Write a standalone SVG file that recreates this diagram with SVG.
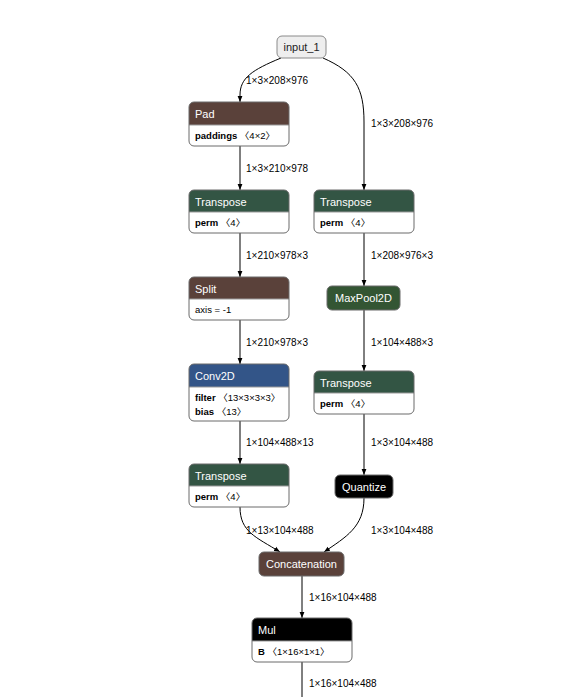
<svg xmlns="http://www.w3.org/2000/svg" width="581" height="697" viewBox="0 0 581 697">
<style>
text{font-family:"Liberation Sans","Noto Sans CJK SC",sans-serif}
.t{font-size:11px;fill:#fff}
.a{font-size:9.5px;fill:#000}
.b{font-weight:bold}
.el{font-size:10px;fill:#000}
.ol{fill:none;stroke:#6b6b6b;stroke-width:1}
.bd{fill:#fff}
.sep{stroke:#9a9a9a;stroke-width:1}
.e{fill:none;stroke:#000;stroke-width:1}
.tensor{fill:#5a413a}
.transform{fill:#335544}
.pool{fill:#335533}
.layer{fill:#335588}
.def{fill:#000}
</style>
<defs>
<marker id="ah" viewBox="0 0 10 10" refX="10" refY="5" markerWidth="6" markerHeight="6" markerUnits="userSpaceOnUse" orient="auto">
<path d="M0,1 L10,5 L0,9 Z" fill="#000"/>
</marker>
</defs>
<rect width="581" height="697" fill="#fff"/>
<g id="connectors">
<path class="e" d="M281 58 C252 70 240 78 240 95 L240 102" marker-end="url(#ah)"/>
<path class="e" d="M323 58 C355 72 364 88 364 122 L364 190" marker-end="url(#ah)"/>
<path class="e" d="M240 146 L240 190" marker-end="url(#ah)"/>
<path class="e" d="M240 233 L240 277" marker-end="url(#ah)"/>
<path class="e" d="M240 320 L240 364" marker-end="url(#ah)"/>
<path class="e" d="M240 421 L240 464" marker-end="url(#ah)"/>
<path class="e" d="M364 233 L364 286" marker-end="url(#ah)"/>
<path class="e" d="M364 310 L364 371" marker-end="url(#ah)"/>
<path class="e" d="M364 414 L364 475" marker-end="url(#ah)"/>
<path class="e" d="M240 507 C240 532 256 537 280 552" marker-end="url(#ah)"/>
<path class="e" d="M364 498 C364 527 346 537 324 552" marker-end="url(#ah)"/>
<path class="e" d="M302 576 L302 618" marker-end="url(#ah)"/>
<path class="e" d="M302 662 L302 697"/>
<text class="el" x="246" y="84">1×3×208×976</text>
<text class="el" x="371" y="127">1×3×208×976</text>
<text class="el" x="246" y="171.5">1×3×210×978</text>
<text class="el" x="246" y="258.5">1×210×978×3</text>
<text class="el" x="371" y="258.5">1×208×976×3</text>
<text class="el" x="246" y="345.5">1×210×978×3</text>
<text class="el" x="371" y="345.5">1×104×488×3</text>
<text class="el" x="246" y="445.5">1×104×488×13</text>
<text class="el" x="371" y="445.5">1×3×104×488</text>
<text class="el" x="246" y="533.5">1×13×104×488</text>
<text class="el" x="371" y="533.5">1×3×104×488</text>
<text class="el" x="309" y="600.5">1×16×104×488</text>
<text class="el" x="309" y="686.5">1×16×104×488</text>
</g>
<g id="input_1">
<rect x="277" y="36" width="49" height="22" rx="5" fill="#eee" stroke="#8a8a8a"/>
<text x="301.5" y="51" text-anchor="middle" font-size="11" fill="#222">input_1</text>
</g>
<g id="pad">
<rect class="bd" x="189" y="102" width="100" height="44" rx="5"/>
<path class="tensor" d="M189 125 V107 A5 5 0 0 1 194 102 H284 A5 5 0 0 1 289 107 V125 Z"/>
<line class="sep" x1="189" y1="125" x2="289" y2="125"/>
<rect class="ol" x="189" y="102" width="100" height="44" rx="5"/>
<text class="t" x="195" y="118">Pad</text>
<text class="a" x="195" y="139"><tspan class="b">paddings</tspan> 〈4×2〉</text>
</g>
<g id="transpose_1">
<rect class="bd" x="189" y="190" width="100" height="43" rx="5"/>
<path class="transform" d="M189 212 V195 A5 5 0 0 1 194 190 H284 A5 5 0 0 1 289 195 V212 Z"/>
<line class="sep" x1="189" y1="212" x2="289" y2="212"/>
<rect class="ol" x="189" y="190" width="100" height="43" rx="5"/>
<text class="t" x="195" y="205.5">Transpose</text>
<text class="a" x="195" y="226"><tspan class="b">perm</tspan> 〈4〉</text>
</g>
<g id="split">
<rect class="bd" x="189" y="277" width="100" height="43" rx="5"/>
<path class="tensor" d="M189 299 V282 A5 5 0 0 1 194 277 H284 A5 5 0 0 1 289 282 V299 Z"/>
<line class="sep" x1="189" y1="299" x2="289" y2="299"/>
<rect class="ol" x="189" y="277" width="100" height="43" rx="5"/>
<text class="t" x="195" y="292.5">Split</text>
<text class="a" x="195" y="313" font-size="8.5">axis = -1</text>
</g>
<g id="conv2d">
<rect class="bd" x="189" y="364" width="100" height="57" rx="5"/>
<path class="layer" d="M189 387 V369 A5 5 0 0 1 194 364 H284 A5 5 0 0 1 289 369 V387 Z"/>
<line class="sep" x1="189" y1="387" x2="289" y2="387"/>
<rect class="ol" x="189" y="364" width="100" height="57" rx="5"/>
<text class="t" x="195" y="380">Conv2D</text>
<text class="a" x="195" y="401"><tspan class="b">filter</tspan> 〈13×3×3×3〉</text>
<text class="a" x="195" y="415"><tspan class="b">bias</tspan> 〈13〉</text>
</g>
<g id="transpose_2">
<rect class="bd" x="189" y="464" width="100" height="43" rx="5"/>
<path class="transform" d="M189 486 V469 A5 5 0 0 1 194 464 H284 A5 5 0 0 1 289 469 V486 Z"/>
<line class="sep" x1="189" y1="486" x2="289" y2="486"/>
<rect class="ol" x="189" y="464" width="100" height="43" rx="5"/>
<text class="t" x="195" y="479.5">Transpose</text>
<text class="a" x="195" y="500"><tspan class="b">perm</tspan> 〈4〉</text>
</g>
<g id="transpose_3">
<rect class="bd" x="314" y="190" width="100" height="43" rx="5"/>
<path class="transform" d="M314 212 V195 A5 5 0 0 1 319 190 H409 A5 5 0 0 1 414 195 V212 Z"/>
<line class="sep" x1="314" y1="212" x2="414" y2="212"/>
<rect class="ol" x="314" y="190" width="100" height="43" rx="5"/>
<text class="t" x="320" y="205.5">Transpose</text>
<text class="a" x="320" y="226"><tspan class="b">perm</tspan> 〈4〉</text>
</g>
<g id="maxpool2d">
<rect class="pool" x="327" y="286" width="73" height="24" rx="5" stroke="#6b6b6b"/>
<text class="t" x="363.5" y="302" text-anchor="middle">MaxPool2D</text>
</g>
<g id="transpose_4">
<rect class="bd" x="314" y="371" width="100" height="43" rx="5"/>
<path class="transform" d="M314 393 V376 A5 5 0 0 1 319 371 H409 A5 5 0 0 1 414 376 V393 Z"/>
<line class="sep" x1="314" y1="393" x2="414" y2="393"/>
<rect class="ol" x="314" y="371" width="100" height="43" rx="5"/>
<text class="t" x="320" y="386.5">Transpose</text>
<text class="a" x="320" y="407"><tspan class="b">perm</tspan> 〈4〉</text>
</g>
<g id="quantize">
<rect class="def" x="335" y="475" width="58" height="23" rx="5" stroke="#6b6b6b"/>
<text class="t" x="364" y="490.5" text-anchor="middle">Quantize</text>
</g>
<g id="concatenation">
<rect class="tensor" x="259" y="552" width="85" height="24" rx="5" stroke="#6b6b6b"/>
<text class="t" x="301.5" y="568" text-anchor="middle">Concatenation</text>
</g>
<g id="mul">
<rect class="bd" x="252" y="618" width="100" height="44" rx="5"/>
<path class="def" d="M252 641 V623 A5 5 0 0 1 257 618 H347 A5 5 0 0 1 352 623 V641 Z"/>
<line class="sep" x1="252" y1="641" x2="352" y2="641"/>
<rect class="ol" x="252" y="618" width="100" height="44" rx="5"/>
<text class="t" x="258" y="634">Mul</text>
<text class="a" x="258" y="655"><tspan class="b">B</tspan> 〈1×16×1×1〉</text>
</g>
</svg>
